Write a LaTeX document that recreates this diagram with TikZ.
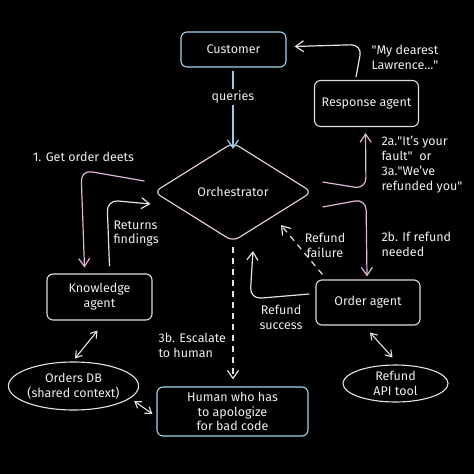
\documentclass[tikz,border=0pt]{standalone}
\usepackage{fontspec}
\setmainfont{Fira Sans}
\usetikzlibrary{arrows.meta,shapes.geometric,calc}
\definecolor{bluel}{RGB}{165,212,238}
\definecolor{bluearr}{RGB}{150,205,235}
\definecolor{boxc}{RGB}{228,218,226}
\definecolor{ellc}{RGB}{228,228,228}
\definecolor{diac}{RGB}{240,214,230}
\definecolor{pinka}{RGB}{226,182,214}
\definecolor{whitea}{RGB}{228,228,228}
\definecolor{txt}{RGB}{238,238,238}
\newcommand{\qq}{\textquotedbl}
\tikzset{
  base/.style={text=txt, font=\fontsize{12.5}{14.8}\selectfont, align=center},
  rbox/.style={base, draw=boxc, line width=1.1pt, rounded corners=6pt, inner sep=0pt},
  bbox/.style={base, draw=bluel, line width=1.1pt, rounded corners=6pt, inner sep=0pt},
  oval/.style={base, ellipse, draw=ellc, line width=1.1pt, inner sep=0pt},
  lbl/.style={base},
  arr/.style={line width=1.2pt, rounded corners=11pt, -{Straight Barb[length=8pt,width=11pt]}},
  dbl/.style={line width=1.1pt, {Straight Barb[length=6pt,width=8pt]}-{Straight Barb[length=6pt,width=8pt]}, color=whitea},
  dsh/.style={dash pattern=on 6pt off 5pt}
}
\begin{document}
\begin{tikzpicture}[x=1pt,y=-1pt]
\fill[black] (0,0) rectangle (474,474);
\useasboundingbox (0,0) rectangle (474,474);

% nodes
\node[bbox, minimum width=105pt, minimum height=35pt] (cust) at (233.5,49.5) {Customer};
\node[rbox, minimum width=104pt, minimum height=46pt] (resp) at (366.5,103.5) {Response agent};
\node[rbox, minimum width=104pt, minimum height=45pt] (order) at (368,302.5) {Order agent};
\node[rbox, minimum width=105pt, minimum height=46pt] (know) at (99.5,297) {Knowledge\\agent};
\node[bbox, minimum width=151pt, minimum height=49pt] (human) at (232.5,411.5) {Human who has\\to apologize\\for bad code};
\node[oval, minimum width=121pt, minimum height=48pt] (db) at (73.5,386) {Orders DB\\(shared context)};
\node[oval, minimum width=105pt, minimum height=37pt] (api) at (395.5,383.5) {Refund\\API tool};
\node[base, diamond, draw=diac, line width=1.1pt, rounded corners=7pt, inner sep=0pt,
      minimum width=158pt, minimum height=99pt] (orch) at (233,192) {Orchestrator};

% labels
\node[lbl] (lq) at (233,97) {queries};
\node[lbl, anchor=west, align=left] (lmy) at (368,57) {\qq My dearest\\Lawrence...\qq};
\node[lbl, anchor=west, align=left] (l2a) at (378,164.5) {2a.\qq It's your\\fault\qq~ or\\3a.\qq We've\\refunded you\qq};
\node[lbl, anchor=west, align=left] (l2b) at (378,244.5) {2b. If refund\\needed};
\node[lbl] (l1) at (83.5,157) {1. Get order deets};
\node[lbl, anchor=west, align=left] (lret) at (110,233.5) {Returns\\findings};
\node[lbl] (lfail) at (325,245.5) {Refund\\failure};
\node[lbl] (lsucc) at (281,317) {Refund\\success};
\node[lbl, anchor=west, align=left] (l3b) at (155,345) {3b. Escalate\\to human};

% connectors
\draw[line width=1.2pt, color=bluearr] ($(cust.south)+(-0.5,3)$) -- ($(lq.north)+(0,2)$);
\draw[arr, color=bluearr] ($(lq.south)+(0,-2)$) -- ($(orch.north)+(0,7)$);

\draw[arr, color=whitea] ($(resp.north)+(-10.5,-3)$) -- (362,44.5) -- ($(cust.east)+(8,-3)$);

\draw[arr, color=pinka] ($(orch.east)+(10,-10)$) -- (366,189) -- ($(resp.south)+(-1,6)$);
\draw[arr, color=pinka] ($(orch.east)+(10,15)$) -- (366,199) -- ($(order.north)+(-1,-3)$);

\draw[arr, color=whitea] ($(order.west)+(-6,-8.5)$) -- (250,299) -- ($(orch.south)+(20,9)$);
\draw[arr, color=whitea, dsh] ($(order.north west)+(7,-5)$) -- ($(orch.south)+(48,-17)$);
\draw[arr, color=whitea, dsh] ($(orch.south)+(0,5)$) -- ($(human.north)+(0.5,-7)$);

\draw[arr, color=pinka] ($(orch.west)+(-9,-11)$) -- (81,170) -- ($(know.north)+(-15,-6)$);
\draw[arr, color=whitea] ($(know.north)+(10,-7)$) -- (107,200) -- ($(orch.west)+(-3,12)$);

\draw[dbl] ($(know.south)+(-2,10)$) -- ($(db.north)+(1.5,-3)$);
\draw[dbl] ($(db.east)+(-5,15)$) -- ($(human.west)+(-4,2.5)$);
\draw[dbl] ($(order.south)+(2,7)$) -- ($(api.north)+(-3,-7)$);
\end{tikzpicture}
\end{document}
